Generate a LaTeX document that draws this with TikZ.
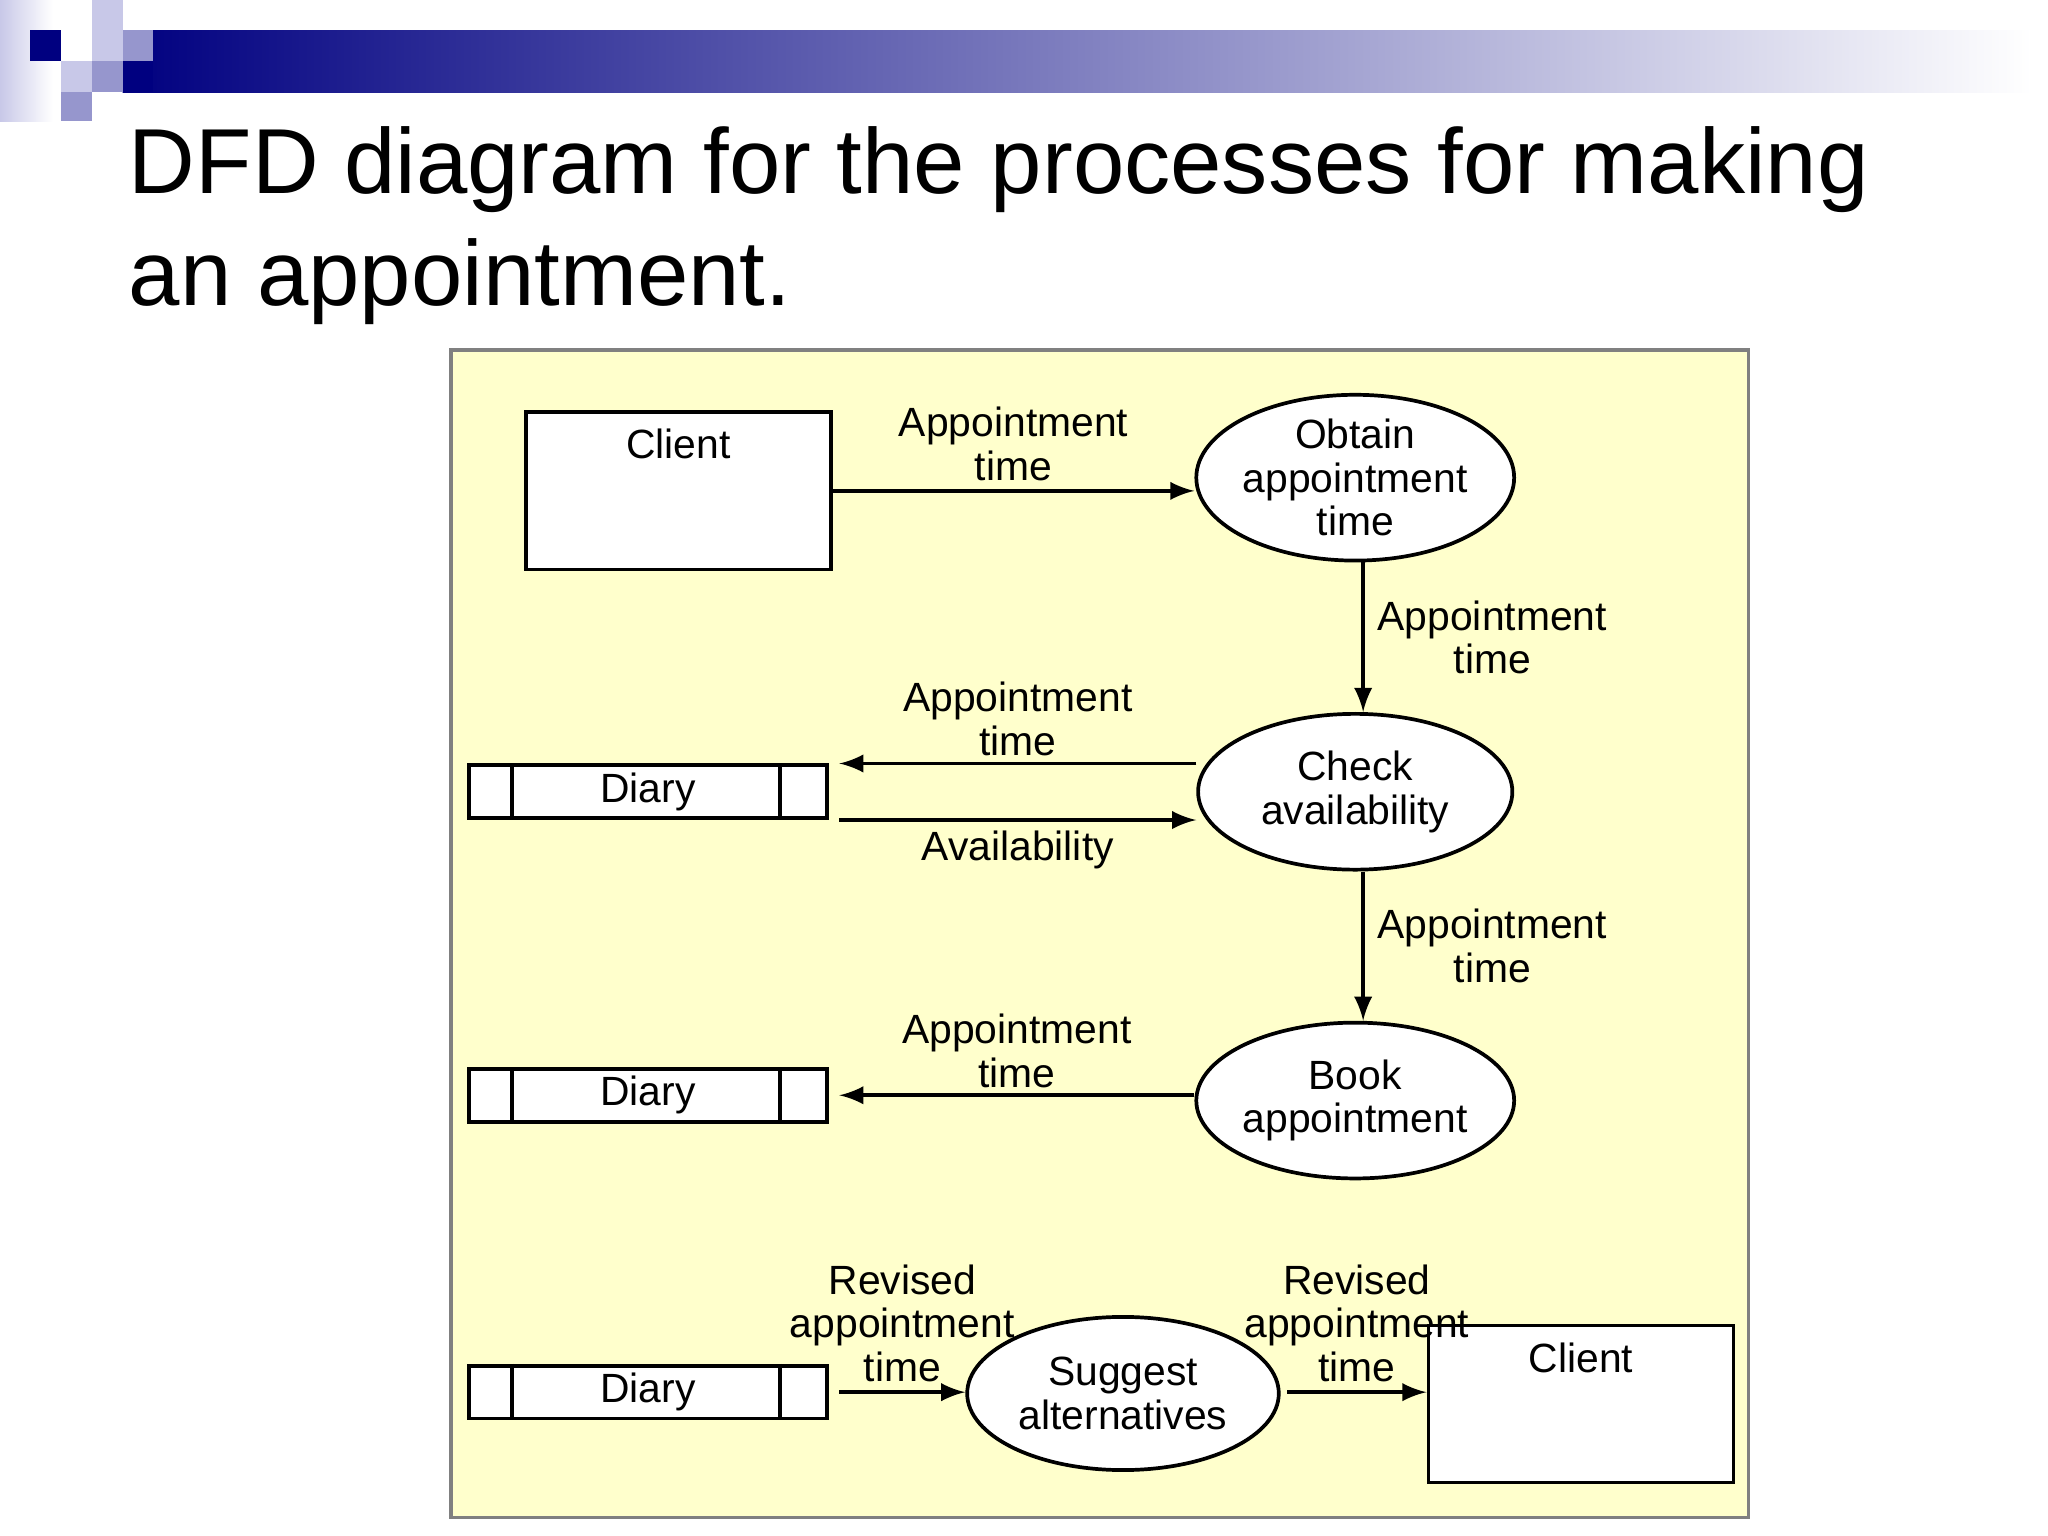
\documentclass[tikz,border=0pt]{standalone}
\usepackage{fontspec}
\setmainfont{Liberation Sans}
\usetikzlibrary{arrows}
\usetikzlibrary{positioning}
\usetikzlibrary{shapes.geometric}
\definecolor{navy}{RGB}{0,0,128}
\definecolor{lav}{RGB}{200,200,232}
\definecolor{midlav}{RGB}{150,150,205}
\definecolor{panel}{RGB}{255,255,204}
\begin{document}
\begin{tikzpicture}[x=0.01cm, y=-0.01cm,
process/.style={ellipse, draw=black, thick, fill=white, minimum width=2.38cm, minimum height=1.18cm, inner sep=0pt, align=center, font=\fontsize{8.8}{9.4}\selectfont},
entity/.style={rectangle, draw=black, thick, fill=white, minimum width=2.31cm, minimum height=1.19cm},
store/.style={rectangle, draw=black, thick, fill=white, minimum width=2.71cm, minimum height=0.4cm, inner sep=0pt, font=\fontsize{8.8}{9.4}\selectfont},
flow/.style={-latex, thick},
lbl/.style={align=center, font=\fontsize{8.8}{9.4}\selectfont, inner sep=1pt},
]
\useasboundingbox (0,0) rectangle (1552,1164);
% header
\shade[left color=lav, right color=white] (0,0) rectangle (40,92);
\shade[left color=navy, middle color=midlav, right color=white] (93,23) rectangle (1540,70);
\fill[lav] (70,0) rectangle (93,46);
\fill[midlav] (93,23) rectangle (116,46);
\fill[navy] (23,23) rectangle (46,46);
\fill[lav] (46,46) rectangle (70,70);
\fill[midlav] (70,46) rectangle (93,70);
\fill[navy] (93,46) rectangle (116,70);
\fill[midlav] (46,70) rectangle (70,92);
\node[anchor=north west, align=left, inner sep=0pt, font=\fontsize{19.9}{24.2}\selectfont] (title) at (97,95) {DFD diagram for the processes for making\\an appointment.};
% panel
\draw[gray, fill=panel, thick] (342,265) rectangle (1325,1150);
% nodes
\node[entity] (client) at (514,372) {};
\node[lbl, below=0.1cm of client.north] (clienttext) {Client};
\node[process] (obtain) at (1027,362) {Obtain\\appointment\\time};
\node[process] (check) at (1027,600) {Check\\availability};
\node[process] (book) at (1027,834) {Book\\appointment};
\node[process, minimum width=2.36cm, minimum height=1.16cm] (suggest) at (851,1056) {Suggest\\alternatives};
\node[entity] (client2) at (1198,1064) {};
\node[lbl, below=0.1cm of client2.north] (client2text) {Client};
\node[store] (diary1) at (491,600) {Diary};
\node[store] (diary2) at (491,830) {Diary};
\node[store] (diary3) at (491,1055) {Diary};
\foreach \d in {diary1,diary2,diary3} {
  \draw[thick] ([xshift=0.34cm]\d.north west) -- ([xshift=0.34cm]\d.south west);
  \draw[thick] ([xshift=-0.37cm]\d.north east) -- ([xshift=-0.37cm]\d.south east);
}
% flows
\draw[flow] (client.east) -- (client.east -| obtain.west) node[lbl, midway, above=0.03cm] {Appointment\\time};
\draw[flow] ([xshift=0.06cm]obtain.south) -- ([xshift=0.06cm]check.north) node[lbl, midway, right=0.06cm] {Appointment\\time};
\draw[flow] (check.west |- diary1.north east) -- ([xshift=0.08cm]diary1.north east) node[lbl, midway, above=0.01cm] {Appointment\\time};
\draw[flow] ([xshift=0.08cm]diary1.south east) -- (check.west |- diary1.south east) node[lbl, midway, below=0.03cm] {Availability};
\draw[flow] ([xshift=0.06cm]check.south) -- ([xshift=0.06cm]book.north) node[lbl, midway, right=0.06cm] {Appointment\\time};
\draw[flow] (book.west |- diary2.east) -- ([xshift=0.08cm]diary2.east) node[lbl, midway, above=0.01cm] {Appointment\\time};
\draw[flow] ([xshift=0.08cm]diary3.east) -- (suggest.west |- diary3.east) node[lbl, midway, above=0.03cm] {Revised\\appointment\\time};
\draw[flow] ([xshift=0.05cm]suggest.east |- diary3.east) -- (client2.west |- diary3.east) node[lbl, midway, above=0.03cm] {Revised\\appointment\\time};
\end{tikzpicture}
\end{document}
